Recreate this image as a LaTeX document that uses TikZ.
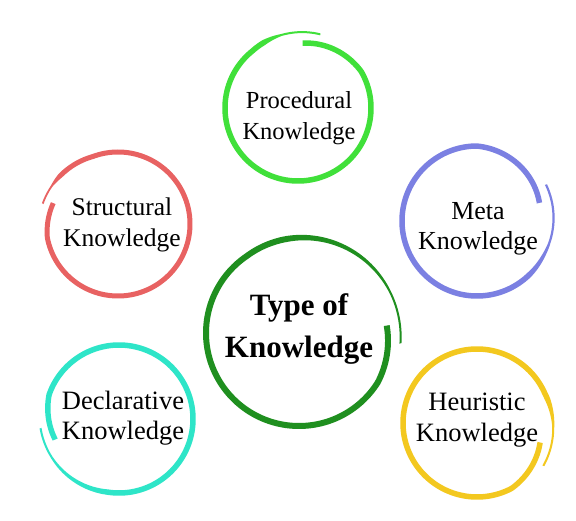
\documentclass[tikz,border=0pt]{standalone}
\usepackage{fontspec}
\setmainfont{Liberation Serif}
\definecolor{cgreen}{HTML}{1F8F1F}
\definecolor{cproc}{HTML}{40E03A}
\definecolor{cstruct}{HTML}{E86262}
\definecolor{cmeta}{HTML}{7B80E2}
\definecolor{cdecl}{HTML}{2EE5C8}
\definecolor{cheur}{HTML}{F3C81F}
\newcommand{\setring}[9]{\def\rgX{#1}\def\rgY{#2}\def\rgR{#3}\def\rgA{#4}\def\rgS{#5}\def\rgRin{#6}\def\rgEz{#7}\def\rgRout{#8}\def\rgEo{#9}}
\newcommand{\setwidth}[4]{\def\rgWz{#1}\def\rgWt{#2}\def\rgSa{#3}\def\rgSb{#4}}
\newcommand{\brushring}[1]{%
  \fill[#1] plot[variable=\s,domain=0:1,samples=220,smooth]
    ({\rgX+(rgrad(\s)+0.5*rgwid(\s))*cos(\rgA+\rgS*\s)},{\rgY+(rgrad(\s)+0.5*rgwid(\s))*sin(\rgA+\rgS*\s)})
    -- plot[variable=\s,domain=1:0,samples=220,smooth]
    ({\rgX+(rgrad(\s)-0.5*rgwid(\s))*cos(\rgA+\rgS*\s)},{\rgY+(rgrad(\s)-0.5*rgwid(\s))*sin(\rgA+\rgS*\s)})
    -- cycle;}
\tikzset{
  declare function={
    rgrad(\s)=\rgR-\rgRin*max(0,1-\s/\rgEz)+\rgRout*max(0,(\s-\rgEo)/(1-\rgEo));
    rgwid(\s)=\rgWz-(\rgWz-\rgWt)*min(1,max(0,(\s-\rgSa)/(\rgSb-\rgSa)));
  },
  label/.style={align=center,text=black,font=\fontsize{#1}{30.5}\selectfont},
  label/.default=26,
  mainlabel/.style={align=center,text=black,font=\fontsize{31}{42}\selectfont\bfseries}
}
\begin{document}
\begin{tikzpicture}[x=1pt,y=1pt]
\fill[white] (0,0) rectangle (576,520);
\useasboundingbox (0,0) rectangle (576,520);
% centre ring
\setring{299}{187}{93}{5}{-371}{5}{0.1}{9}{0.65}
\setwidth{6}{2}{0.72}{0.92}
\brushring{cgreen}
% procedural
\setring{298}{412}{73}{86}{-373}{8}{0.15}{4}{0.85}
\setwidth{5.5}{2}{0.88}{0.92}
\brushring{cproc}
% structural
\setring{118}{296}{72}{162}{363}{4}{0.08}{6}{0.85}
\setwidth{5}{1.8}{0.93}{0.96}
\brushring{cstruct}
% meta
\setring{477}{299}{75}{16}{372}{10}{0.2}{3}{0.85}
\setwidth{5.5}{2.2}{0.8}{0.88}
\brushring{cmeta}
% declarative
\setring{119}{101}{74}{198}{-371.5}{7}{0.1}{5}{0.8}
\setwidth{5.5}{2}{0.8}{0.94}
\brushring{cdecl}
% heuristic
\setring{477}{97}{74}{-17}{-376}{8}{0.12}{5}{0.85}
\setwidth{5.5}{2}{0.86}{0.92}
\brushring{cheur}
% labels
\node[mainlabel] (type) at (299,191) {Type of\\Knowledge};
\node[label=24.5] (proc) at (299,402) {Procedural\\Knowledge};
\node[label=25.5] (struct) at (122,295) {Structural\\Knowledge};
\node[label=26] (meta) at (478,291) {Meta\\Knowledge};
\node[label=26.5] (decl) at (123,102) {Declarative\\Knowledge};
\node[label=26.5] (heur) at (477,100) {Heuristic\\Knowledge};
\end{tikzpicture}
\end{document}
